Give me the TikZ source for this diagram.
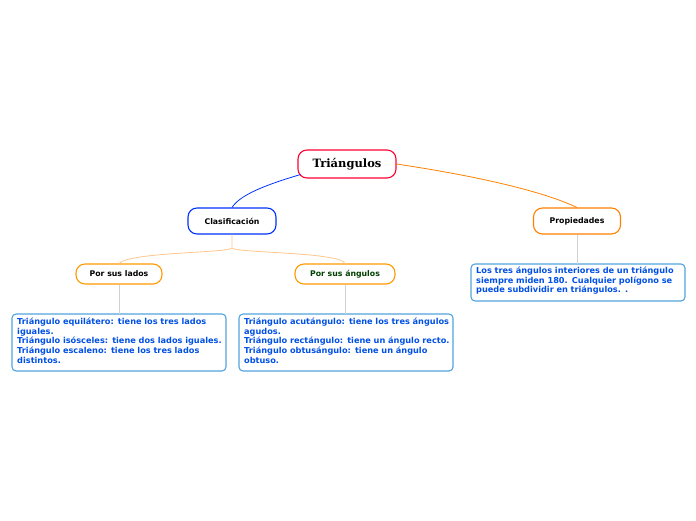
\documentclass[tikz,border=0pt]{standalone}
\usepackage{fontspec}
\setmainfont{DejaVu Sans}
\newfontfamily\titlefont{DejaVu Serif}
\begin{document}
\begin{tikzpicture}[x=1pt,y=-1pt,
  pill/.style={draw,rounded corners=9pt,line width=1.1pt,fill=white,font=\bfseries\fontsize{7.8}{9}\selectfont,inner sep=0pt},
  info/.style={draw=cyan!70!blue!70,rounded corners=4pt,line width=1.1pt,fill=white,inner sep=0pt,anchor=north west},
  itext/.style={text=blue!65!cyan!90!black,font=\bfseries\fontsize{8.2}{9.6}\selectfont,align=left,text width=#1,anchor=north west,inner sep=0pt,execute at begin node={\hyphenpenalty=10000\raggedright}}]
\useasboundingbox (0,0) rectangle (696,520);
\node[pill,draw=red!80!magenta,minimum width=98pt,minimum height=28pt,font=\titlefont\bfseries\fontsize{11.5}{13}\selectfont] (t) at (347,164) {Triángulos};
\node[pill,draw=blue!80!cyan,minimum width=88pt,minimum height=26pt] (c) at (232,221) {Clasificación};
\node[pill,draw=orange,minimum width=87pt,minimum height=26pt] (p) at (577,221) {Propiedades};
\node[pill,draw=orange!80!yellow,minimum width=86pt,minimum height=20pt] (l) at (119,274) {Por sus lados};
\node[pill,draw=orange!80!yellow,minimum width=100pt,minimum height=20pt,text=green!25!black] (a) at (345,274) {Por sus ángulos};
\draw[info] (12,314) rectangle (226,371);
\coordinate (b1) at (119,314);
\node[itext=206pt] at (17,318) {Triángulo equilátero: tiene los tres lados iguales.\\Triángulo isósceles: tiene dos lados iguales.\\Triángulo escaleno: tiene los tres lados distintos.};
\draw[info] (239,314) rectangle (453,371);
\coordinate (b2) at (345,314);
\node[itext=206pt] at (244,318) {Triángulo acutángulo: tiene los tres ángulos agudos.\\Triángulo rectángulo: tiene un ángulo recto.\\Triángulo obtusángulo: tiene un ángulo obtuso.};
\draw[info] (471,264) rectangle (685,301);
\coordinate (b3) at (577,264);
\node[itext=206pt] at (476,267) {Los tres ángulos interiores de un triángulo siempre miden 180. Cualquier polígono se puede subdividir en triángulos. .};
\draw[blue!80!cyan,thick] (t.south west)++(3,-4) .. controls (265,185) and (240,195) .. (c.north);
\draw[orange,thick] (t.east) .. controls (470,175) and (540,190) .. (p.north);
\coordinate (j) at (232,248);
\draw[orange!45,thick] (c.south) -- (j) .. controls (228,253) and (130,252) .. (l.north);
\draw[orange!45,thick] (j) .. controls (236,253) and (340,252) .. (a.north);
\draw[gray!35,thick] (l.south) -- (b1);
\draw[gray!35,thick] (a.south) -- (b2);
\draw[gray!35,thick] (p.south) -- (b3);
\end{tikzpicture}
\end{document}
